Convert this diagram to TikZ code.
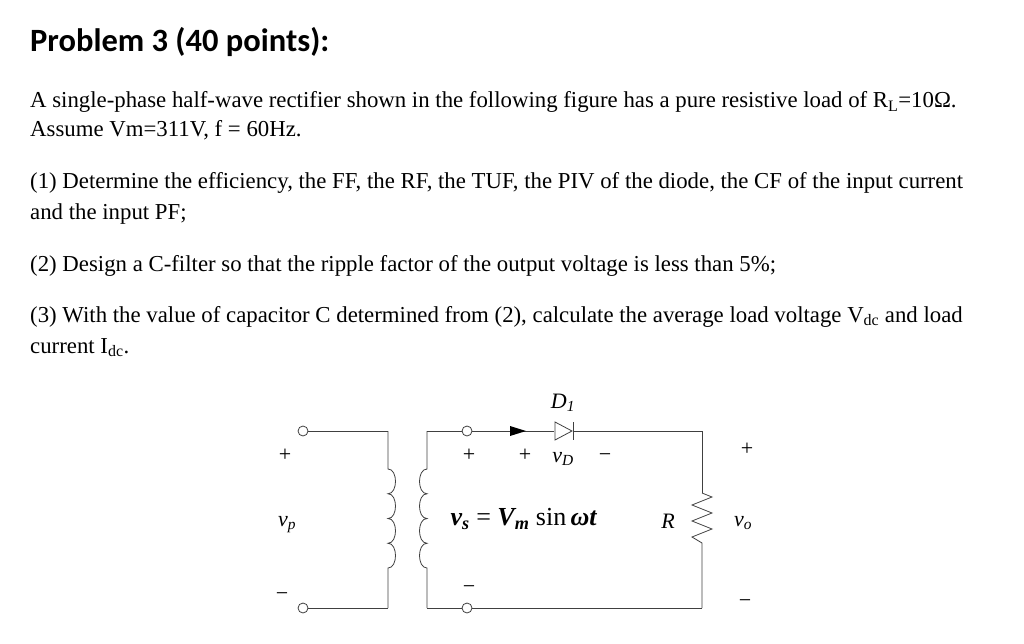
\documentclass[tikz,border=0pt]{standalone}
\usepackage{fontspec}
\setmainfont{Liberation Serif}
\newfontfamily\titlefont{Carlito}
\begin{document}
\begin{tikzpicture}[x=1pt,y=-1pt,
  txt/.style={anchor=base west,inner sep=0pt,font=\fontsize{22.8}{26}\selectfont},
  lbl/.style={inner sep=0pt,font=\fontsize{22}{26}\selectfont},
  wire/.style={line width=0.8pt,draw=black!75},
  term/.style={circle,draw=black!75,line width=0.8pt,fill=white,minimum size=10pt,inner sep=0pt}]
\useasboundingbox (0,0) rectangle (1024,644);
\node[txt,font=\titlefont\bfseries\fontsize{32.5}{36}\selectfont] (title) at (30,52) {Problem 3 (40 points):};
\node[txt] (l1) at (30,108) {A single-phase half-wave rectifier shown in the following figure has a pure resistive load of R\textsubscript{L}=10Ω.};
\node[txt] (l2) at (30,137) {Assume Vm=311V, f = 60Hz.};
\node[txt] (l3) at (30,189) {(1) Determine the efficiency, the FF, the RF, the TUF, the PIV of the diode, the CF of the input current};
\node[txt] (l4) at (30,220) {and the input PF;};
\node[txt] (l5) at (30,271) {(2) Design a C-filter so that the ripple factor of the output voltage is less than 5\%;};
\node[txt] (l6) at (30,322) {(3) With the value of capacitor C determined from (2), calculate the average load voltage V\textsubscript{dc} and load};
\node[txt] (l7) at (30,353) {current I\textsubscript{dc}.};
% primary
\coordinate (pt) at (388,431); \coordinate (pb) at (388,608);
\draw[wire] (pt) -- (388,469)
  .. controls (398,469) and (398,493.75) .. (388,493.75)
  .. controls (398,493.75) and (398,518.5) .. (388,518.5)
  .. controls (398,518.5) and (398,543.25) .. (388,543.25)
  .. controls (398,543.25) and (398,568) .. (388,568) -- (pb);
\node[term] (p1) at (303,431) {};
\node[term] (p2) at (303,608) {};
\draw[wire] (p1) -- (pt); \draw[wire] (p2) -- (pb);
% secondary
\coordinate (st) at (427,431); \coordinate (sb) at (427,608);
\draw[wire] (st) -- (427,469)
  .. controls (417,469) and (417,493.75) .. (427,493.75)
  .. controls (417,493.75) and (417,518.5) .. (427,518.5)
  .. controls (417,518.5) and (417,543.25) .. (427,543.25)
  .. controls (417,543.25) and (417,568) .. (427,568) -- (sb);
\coordinate (rt) at (702,431); \coordinate (rb) at (702,608);
\node[term] (s1) at (467,431) {};
\node[term] (s2) at (467,608) {};
\draw[wire] (s1) -- (554,431);
\draw[wire] (573,431) -- (rt) -- (702,493);
\draw[wire] (702,493) -- (712,497) -- (692,505) -- (712,513) -- (692,521) -- (712,529) -- (692,537) -- (702,543) -- (rb);
\draw[wire] (st) -- (s1); \draw[wire] (sb) -- (s2) -- (rb);
% arrow
\fill (510,426) -- (526,431) -- (510,436) -- cycle;
% diode
\draw[wire] (555,422) -- (555,440) -- (572,431) -- cycle;
\draw[wire] (573,422) -- (573,440);
% labels
\node[lbl] (a1) at (285,455) {+};
\node[lbl] (a2) at (287,525) {\textit{v\textsubscript{p}}};
\node[lbl] (a3) at (282,597) {\char"2212};
\node[lbl] (a4) at (469,455) {+};
\node[lbl] (a5) at (469,590) {\char"2212};
\node[lbl] (a6) at (525,455) {+};
\node[lbl] (a7) at (563,459) {\textit{v\textsubscript{D}}};
\node[lbl] (a8) at (605,458) {\char"2212};
\node[lbl] (a9) at (563,403) {\textit{D\textsubscript{1}}};
\node[lbl,font=\fontsize{26}{28}\selectfont] (eq) at (524,519) {\textbf{\textit{v\textsubscript{s}}} = \textbf{\textit{V\textsubscript{m}}} sin\,\textbf{\textit{ωt}}};
\node[lbl] (R) at (668,521) {\textit{R}};
\node[lbl] (vo) at (743,523) {\textit{v\textsubscript{o}}};
\node[lbl] (b1) at (747,449) {+};
\node[lbl] (b2) at (745,604) {\char"2212};
\end{tikzpicture}
\end{document}
